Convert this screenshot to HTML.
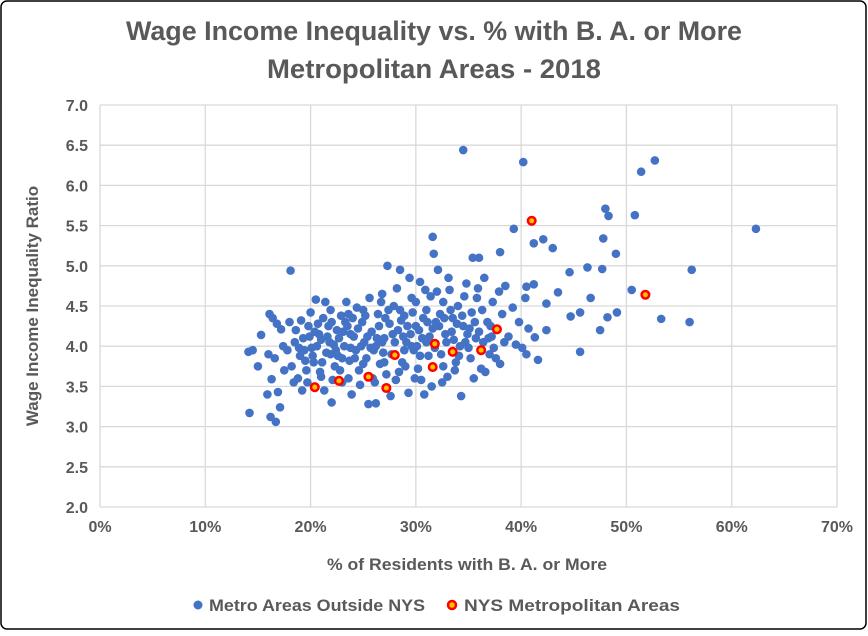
<!DOCTYPE html>
<html><head><meta charset="utf-8"><style>
body{margin:0;background:#fff;font-family:"Liberation Sans",sans-serif;}
#wrap{position:relative;width:868px;height:631px;}
</style></head><body>
<div id="wrap">
<svg id="svg" width="868" height="631" xmlns="http://www.w3.org/2000/svg">
<rect x="1" y="1" width="865" height="628" rx="6" fill="#fff" stroke="#000" stroke-width="1.5"/>
<text x="434" y="40" text-anchor="middle" font-size="27" font-weight="bold" fill="#595959" textLength="616" lengthAdjust="spacingAndGlyphs">Wage Income Inequality vs. % with B. A. or More</text>
<text x="434" y="78" text-anchor="middle" font-size="27" font-weight="bold" fill="#595959" textLength="334" lengthAdjust="spacingAndGlyphs">Metropolitan Areas - 2018</text>
<g id="grid"></g><g id="ticks"></g><g id="marks"></g>
<text x="467" y="570" text-anchor="middle" font-size="17" font-weight="bold" fill="#595959" textLength="280" lengthAdjust="spacingAndGlyphs">% of Residents with B. A. or More</text>
<text transform="translate(38,306) rotate(-90)" text-anchor="middle" font-size="17" font-weight="bold" fill="#595959">Wage Income Inequality Ratio</text>
<g>
<circle cx="198" cy="605" r="4.5" fill="#4472C4"/>
<text x="209" y="611" font-size="17" font-weight="bold" fill="#595959" textLength="216" lengthAdjust="spacingAndGlyphs">Metro Areas Outside NYS</text>
<circle cx="452" cy="605" r="4" fill="#FFC000" stroke="#FF0000" stroke-width="2.5"/>
<text x="464" y="611" font-size="17" font-weight="bold" fill="#595959" textLength="216" lengthAdjust="spacingAndGlyphs">NYS Metropolitan Areas</text>
</g>
</svg></div>
<script>
const xTicks=[0,10,20,30,40,50,60,70];
const yTicks=[2.0,2.5,3.0,3.5,4.0,4.5,5.0,5.5,6.0,6.5,7.0];
const redData=[[20.4,3.49],[22.7,3.57],[25.5,3.62],[27.2,3.48],[28.0,3.89],[31.6,3.74],[31.8,4.03],[33.5,3.93],[36.2,3.95],[37.7,4.21],[41.0,5.56],[51.8,4.64]];
const blueData=[[14.1,3.93],[14.2,3.17],[15.0,3.75],[15.3,4.14],[16.1,4.40],[16.2,3.12],[16.7,3.06],[15.9,3.40],[17.1,3.24],[18.1,4.94],[16.9,3.43],[16.3,3.59],[14.5,3.95],[16.4,4.35],[16.8,4.28],[17.2,4.21],[16.0,3.90],[16.6,3.85],[17.5,3.70],[18.0,4.30],[17.8,3.95],[18.4,3.55],[18.8,3.60],[18.5,4.05],[19.0,3.88],[19.3,4.10],[19.6,3.70],[19.2,3.45],[19.8,4.25],[20.1,3.98],[20.5,4.58],[20.3,3.80],[20.8,4.15],[21.0,3.62],[21.2,4.35],[21.5,3.92],[21.3,3.45],[21.8,4.05],[22.0,3.30],[21.9,4.45],[22.3,3.75],[22.5,4.20],[22.6,3.88],[22.9,4.38],[23.2,4.00],[23.0,3.55],[23.5,4.25],[23.7,3.82],[23.9,3.40],[24.1,4.12],[24.4,4.48],[24.3,3.95],[24.6,3.70],[24.9,4.30],[25.1,4.05],[25.3,3.85],[25.6,4.60],[25.5,3.28],[25.8,4.18],[26.0,3.95],[26.2,3.29],[26.4,4.40],[26.6,3.78],[26.8,4.65],[27.0,4.10],[27.2,3.65],[27.3,5.00],[27.5,4.28],[27.7,3.90],[27.9,4.50],[28.1,3.58],[28.3,4.20],[28.5,4.95],[28.7,3.80],[28.9,4.38],[29.1,4.05],[29.3,3.42],[29.6,4.60],[29.8,3.95],[30.0,4.25],[30.2,3.72],[30.4,4.80],[30.6,4.10],[30.8,3.40],[31.0,4.45],[31.2,3.88],[31.4,4.62],[31.5,3.50],[31.9,4.30],[32.1,4.95],[32.4,3.90],[32.6,4.55],[32.8,4.15],[33.0,3.62],[33.2,4.70],[33.5,4.35],[33.8,3.80],[34.0,4.50],[34.3,3.38],[34.5,4.25],[34.8,4.78],[35.0,3.98],[35.3,4.42],[35.5,3.60],[35.8,4.60],[36.0,4.18],[36.2,3.72],[36.5,4.85],[36.8,4.30],[37.0,3.90],[37.3,4.55],[37.6,3.85],[37.9,4.68],[38.2,4.40],[38.0,3.78],[38.5,4.75],[38.8,4.12],[39.2,4.48],[39.5,4.02],[39.8,4.30],[40.1,3.98],[40.4,4.60],[40.7,4.22],[18.6,4.20],[19.4,3.95],[20.0,4.42],[20.6,4.00],[21.1,3.80],[21.7,4.25],[22.2,4.02],[22.8,3.70],[23.3,4.30],[23.8,4.15],[24.2,3.85],[24.8,4.00],[25.2,4.38],[25.9,3.60],[26.3,4.10],[26.9,3.92],[27.4,4.45],[28.0,4.05],[28.6,4.32],[29.0,3.75],[29.5,4.15],[30.1,4.00],[30.7,4.35],[31.3,4.12],[31.8,3.98],[32.3,4.40],[32.9,4.05],[33.4,4.18],[34.2,4.00],[34.9,4.15],[35.6,4.30],[36.4,4.05],[37.1,4.25],[17.4,4.00],[18.2,3.75],[19.7,3.55],[20.9,3.68],[22.1,3.58],[23.6,3.60],[24.7,3.52],[26.1,3.55],[27.6,3.38],[28.4,3.68],[29.9,3.60],[30.5,3.58],[32.5,3.55],[33.7,3.70],[35.2,3.85],[36.6,3.68],[37.4,3.98],[21.4,4.55],[23.4,4.55],[25.0,4.45],[26.7,4.55],[28.2,4.72],[29.4,4.85],[30.9,4.70],[32.0,4.68],[33.1,4.85],[34.6,4.62],[35.9,4.72],[34.5,6.44],[40.2,6.29],[52.7,6.31],[51.4,6.17],[48.0,5.71],[48.3,5.62],[50.8,5.63],[39.3,5.46],[62.3,5.46],[31.6,5.36],[41.2,5.28],[42.1,5.33],[43.0,5.22],[47.8,5.34],[49.0,5.15],[38.0,5.17],[36.0,5.10],[35.4,5.10],[31.7,5.15],[56.2,4.95],[44.6,4.92],[46.3,4.98],[47.7,4.96],[50.5,4.70],[53.3,4.34],[49.1,4.42],[48.2,4.36],[47.5,4.20],[45.6,3.93],[44.7,4.37],[45.6,4.42],[46.6,4.60],[43.5,4.67],[42.4,4.53],[42.4,4.20],[41.3,4.11],[41.6,3.83],[40.5,3.90],[41.2,4.77],[40.5,4.74],[56.0,4.30],
[19.1,4.32],[19.9,4.12],[20.2,3.88],[20.7,4.28],[21.6,4.12],[22.4,3.95],[22.7,4.10],[23.1,4.18],[23.8,3.98],[24.5,4.22],[25.4,4.12],[25.7,3.98],[26.5,4.25],[26.2,4.00],[27.1,4.35],[27.8,4.15],[28.8,4.12],[29.2,4.25],[29.7,4.42],[30.3,4.20],[31.1,4.30],[31.6,4.22],[32.2,4.25],[32.7,4.35],[33.3,4.45],[33.9,4.28],[34.4,4.38],[35.1,4.22],[35.7,4.10],[36.3,4.45],[37.2,4.12],[24.0,4.35],[23.0,3.85],[21.9,3.90],[20.4,4.18],[19.5,3.82],[26.8,4.05],[28.9,3.95],[30.4,3.88],[32.6,3.75],[34.1,3.88],[21.0,4.08],[22.0,4.30],[25.0,3.78],[27.0,3.80],[29.6,4.00],[31.0,4.05],[33.6,4.08],[36.9,4.10],[38.4,4.05],[18.9,3.98],[23.6,4.40],[28.5,4.45],[30.0,4.55],[34.7,4.05]];
const NS="http://www.w3.org/2000/svg";
const X0=100,X1=837,Y0=507,Y1=105;
function sx(v){return X0+(v-0)/70*(X1-X0);}
function sy(v){return Y0-(v-2)/5*(Y0-Y1);}
function mk(tag,attrs,parent){const e=document.createElementNS(NS,tag);for(const k in attrs)e.setAttribute(k,attrs[k]);parent.appendChild(e);return e;}
const grid=document.getElementById('grid'),ticks=document.getElementById('ticks'),marks=document.getElementById('marks');
xTicks.forEach(t=>{
  const l=mk('line',{x1:sx(t),x2:sx(t),y1:Y1,y2:Y0,stroke:'#d9d9d9','stroke-width':1.3},grid);
  
  
  const tx=mk('text',{x:sx(t),y:Y0+25,'text-anchor':'middle','font-size':16,'font-weight':'bold',fill:'#595959'},ticks);
  tx.textContent=t+'%';
  
  
});
yTicks.forEach(t=>{
  const l=mk('line',{x1:X0,x2:X1,y1:sy(t),y2:sy(t),stroke:'#d9d9d9','stroke-width':1.3},grid);
  
  
  const tx=mk('text',{x:88,y:sy(t)+6,'text-anchor':'end','font-size':16,'font-weight':'bold',fill:'#595959'},ticks);
  tx.textContent=t.toFixed(1);
  
  
});
blueData.forEach(p=>{
  const c=mk('circle',{cx:sx(p[0]),cy:sy(p[1]),r:4.3,fill:'#4472C4'},marks);
  
  
});
redData.forEach(p=>{
  const c=mk('circle',{cx:sx(p[0]),cy:sy(p[1]),r:3.8,fill:'#FFC000',stroke:'#FF0000','stroke-width':2.5},marks);
  
  
});
</script>
</body></html>
